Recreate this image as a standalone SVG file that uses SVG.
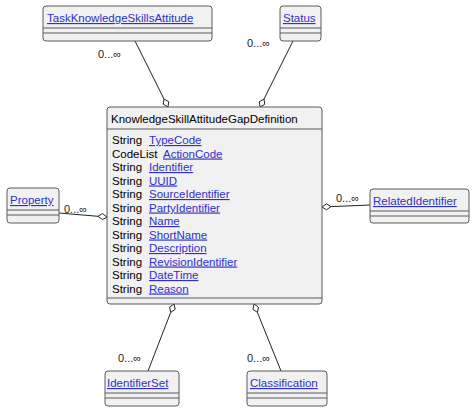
<svg xmlns="http://www.w3.org/2000/svg" width="474" height="411" viewBox="0 0 474 411">
<style>
.box{fill:#f1f1f1;stroke:#5a5a5a;stroke-width:1}
.sep{stroke:#5a5a5a;stroke-width:1}
.t{font-family:"Liberation Sans",Arial,sans-serif;font-size:11.5px;fill:#000}
.lk{font-family:"Liberation Sans",Arial,sans-serif;font-size:11.5px;fill:#2f2fcc;text-decoration:underline}
.m{font-family:"Liberation Sans",Arial,sans-serif;font-size:11px;fill:#222}
.ln{stroke:#222;stroke-width:1;fill:none}
.dm{fill:#fff;stroke:#222;stroke-width:1}
</style>
<g id="connectors">
<line class="ln" x1="135" y1="41" x2="164" y2="99"/>
<polygon class="dm" points="168,107 168.7,101.7 164,99 163.3,104.3"/>
<text class="m" x="98" y="58">0...∞</text>
<line class="ln" x1="293" y1="41" x2="264" y2="99"/>
<polygon class="dm" points="260,107 264.7,104.3 264,99 259.3,101.7"/>
<text class="m" x="247" y="47">0...∞</text>
<line class="ln" x1="59" y1="213" x2="98" y2="216.3"/>
<polygon class="dm" points="107,217 102.5,219.6 98,216.3 102.5,213.6"/>
<text class="m" x="64" y="213">0...∞</text>
<line class="ln" x1="370" y1="205" x2="331" y2="206.6"/>
<polygon class="dm" points="322,207 326.5,203.8 331,206.6 326.5,209.8"/>
<text class="m" x="336" y="202">0...∞</text>
<line class="ln" x1="148" y1="371" x2="170.7" y2="312.4"/>
<polygon class="dm" points="174,304 175.2,309.3 170.7,312.4 169.6,307.1"/>
<text class="m" x="118" y="362">0...∞</text>
<line class="ln" x1="281" y1="371" x2="257.4" y2="312.4"/>
<polygon class="dm" points="254,304 258.5,307.1 257.4,312.4 252.9,309.3"/>
<text class="m" x="247" y="362">0...∞</text>
</g>
<g id="TaskKnowledgeSkillsAttitude">
<rect class="box" x="43" y="6" width="169" height="35" rx="3"/>
<line class="sep" x1="43" y1="28" x2="212" y2="28"/>
<line class="sep" x1="43" y1="33" x2="212" y2="33"/>
<text class="lk" x="47" y="22">TaskKnowledgeSkillsAttitude</text>
</g>
<g id="Status">
<rect class="box" x="280" y="6" width="41" height="35" rx="3"/>
<line class="sep" x1="280" y1="28" x2="321" y2="28"/>
<line class="sep" x1="280" y1="33" x2="321" y2="33"/>
<text class="lk" x="283" y="22">Status</text>
</g>
<g id="KnowledgeSkillAttitudeGapDefinition">
<rect class="box" x="107" y="107" width="215" height="197" rx="3"/>
<line class="sep" x1="107" y1="129" x2="322" y2="129"/>
<line class="sep" x1="107" y1="298" x2="322" y2="298"/>
<text class="t" x="111" y="123">KnowledgeSkillAttitudeGapDefinition</text>
<text class="t" x="112" y="144">String</text><text class="lk" x="149" y="144">TypeCode</text>
<text class="t" x="112" y="157.5">CodeList</text><text class="lk" x="163" y="157.5">ActionCode</text>
<text class="t" x="112" y="171">String</text><text class="lk" x="149" y="171">Identifier</text>
<text class="t" x="112" y="184.5">String</text><text class="lk" x="149" y="184.5">UUID</text>
<text class="t" x="112" y="198">String</text><text class="lk" x="149" y="198">SourceIdentifier</text>
<text class="t" x="112" y="211.5">String</text><text class="lk" x="149" y="211.5">PartyIdentifier</text>
<text class="t" x="112" y="225">String</text><text class="lk" x="149" y="225">Name</text>
<text class="t" x="112" y="238.5">String</text><text class="lk" x="149" y="238.5">ShortName</text>
<text class="t" x="112" y="252">String</text><text class="lk" x="149" y="252">Description</text>
<text class="t" x="112" y="265.5">String</text><text class="lk" x="149" y="265.5">RevisionIdentifier</text>
<text class="t" x="112" y="279">String</text><text class="lk" x="149" y="279">DateTime</text>
<text class="t" x="112" y="292.5">String</text><text class="lk" x="149" y="292.5">Reason</text>
</g>
<g id="Property">
<rect class="box" x="7" y="188" width="52" height="35" rx="3"/>
<line class="sep" x1="7" y1="210" x2="59" y2="210"/>
<line class="sep" x1="7" y1="215" x2="59" y2="215"/>
<text class="lk" x="10" y="204">Property</text>
</g>
<g id="RelatedIdentifier">
<rect class="box" x="370" y="189" width="99" height="34" rx="3"/>
<line class="sep" x1="370" y1="211" x2="469" y2="211"/>
<line class="sep" x1="370" y1="216" x2="469" y2="216"/>
<text class="lk" x="373" y="205">RelatedIdentifier</text>
</g>
<g id="IdentifierSet">
<rect class="box" x="105" y="371" width="74" height="35" rx="3"/>
<line class="sep" x1="105" y1="393" x2="179" y2="393"/>
<line class="sep" x1="105" y1="398" x2="179" y2="398"/>
<text class="lk" x="107" y="387">IdentifierSet</text>
</g>
<g id="Classification">
<rect class="box" x="247" y="371" width="80" height="35" rx="3"/>
<line class="sep" x1="247" y1="393" x2="327" y2="393"/>
<line class="sep" x1="247" y1="398" x2="327" y2="398"/>
<text class="lk" x="250" y="387">Classification</text>
</g>
</svg>
